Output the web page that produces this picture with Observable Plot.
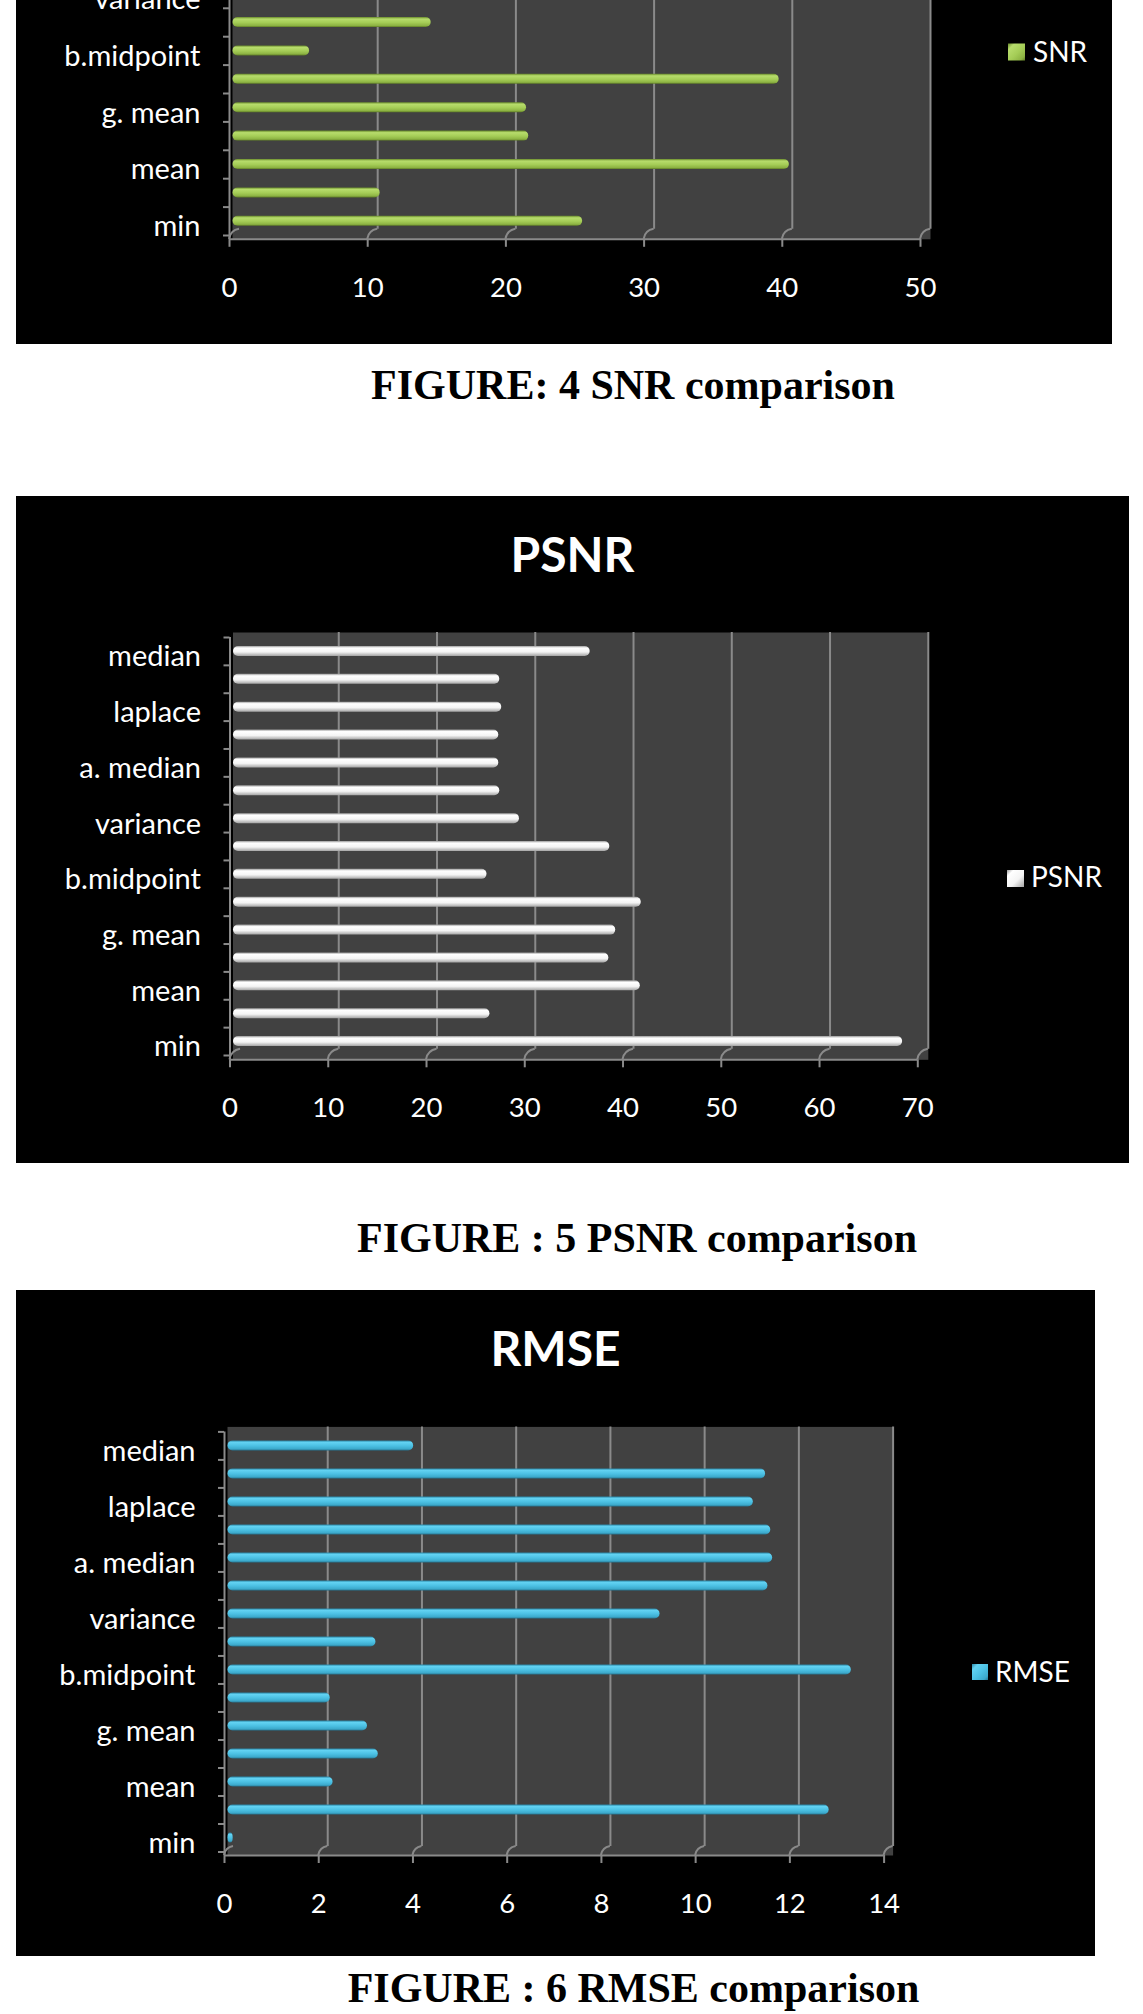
<!DOCTYPE html>
<html><head><meta charset="utf-8">
<script src="https://cdn.jsdelivr.net/npm/d3@7"></script>
<script src="https://cdn.jsdelivr.net/npm/@observablehq/plot@0.6"></script>
<style>
html,body{margin:0;padding:0;background:#fff;}
#page{position:relative;width:1143px;height:2014px;overflow:hidden;background:#fff;}
.panel{position:absolute;overflow:hidden;background:#000;}
.panel svg{position:absolute;left:0;}
#caps{position:absolute;left:0;top:0;pointer-events:none;}
</style></head><body><div id="page"></div>
<script>
// ---- data (rows listed from the bottom row "min" upward; "" = unlabeled row) ----
const rowLabels = ["min", "", "mean", "", "g. mean", "", "b.midpoint", "", "variance", "", "a. median", "", "laplace", "", "median"];
// SNR: only the lower 8 rows (and the foot of the "variance" label) are visible in the picture
const snrValues  = [25.3, 10.65, 40.26, 21.40, 21.24, 39.52, 5.54, 14.34];
const psnrValues = [68.1, 26.1, 41.4, 38.2, 38.9, 41.5, 25.8, 38.3, 29.1, 27.1, 27.0, 27.0, 27.3, 27.1, 36.3];
const rmseValues = [0.11, 12.76, 2.23, 3.19, 2.96, 2.17, 13.23, 3.14, 9.17, 11.46, 11.56, 11.52, 11.15, 11.41, 3.94];
const snrTicks  = [0, 10, 20, 30, 40, 50];
const psnrTicks = [0, 10, 20, 30, 40, 50, 60, 70];
const rmseTicks = [0, 2, 4, 6, 8, 10, 12, 14];
const titles   = ["SNR", "PSNR", "RMSE"];
const captions = ["FIGURE: 4 SNR comparison", "FIGURE : 5 PSNR comparison", "FIGURE : 6 RMSE comparison"];

// ---- styling / layout ----
const FONT = "Lato, 'Open Sans', sans-serif";
const WALL = "#414141", GRID = "#8a8a8a";
const gradients = {
  snr:  [["0%","#688a2b"],["20%","#b7dc6c"],["55%","#a5cd57"],["85%","#8db343"],["100%","#5f7d26"]],
  psnr: [["0%","#9a9a9a"],["20%","#ffffff"],["60%","#f4f4f4"],["100%","#a4a4a4"]],
  rmse: [["0%","#2a86a6"],["20%","#62d2f2"],["55%","#4bc0e3"],["85%","#3ca9cb"],["100%","#25738f"]]
};
const panels = [
  {key:"snr", title:null, legendText:titles[0], values:snrValues, ticks:snrTicks, labelRows:[0,2,4,6,8],
   boxTop:0, boxH:344, svgTop:-332.5,
   left:16, width:1096, height:676.5, mt:141, mb:109.5, ml:213, mr:192, gap:3.8, off:10,
   legend:{x:992, y:375.5, s:17, tx:1017, ty:393.5}},
  {key:"psnr", title:titles[1], legendText:titles[1], values:psnrValues, ticks:psnrTicks, labelRows:d3.range(0, 15, 2),
   boxTop:496, boxH:667, svgTop:0,
   left:16, width:1113, height:667, mt:141, mb:108, ml:213.5, mr:211.7, gap:4.3, off:10.5,
   legend:{x:991, y:374, s:17, tx:1015, ty:391.3}},
  {key:"rmse", title:titles[2], legendText:titles[2], values:rmseValues, ticks:rmseTicks, labelRows:d3.range(0, 15, 2),
   boxTop:1290, boxH:666, svgTop:0,
   left:16, width:1079, height:666, mt:141.4, mb:104.5, ml:208, mr:211.4, gap:3.5, off:9,
   legend:{x:956, y:374, s:16, tx:979, ty:392}}
];

const page = document.getElementById("page");

function makePanel(p) {
  const rows = p.values.map((v, i) => ({i, label: rowLabels[i], v}));
  const gid = "grad-" + p.key;
  const xMax = p.ticks[p.ticks.length - 1];
  const step = (p.height - p.mt - p.mb) / rowLabels.length;
  const barH = 10;
  const inset = (step - barH) / 2;
  const plot = Plot.plot({
    width: p.width, height: p.height,
    marginTop: p.mt, marginBottom: p.mb, marginLeft: p.ml, marginRight: p.mr,
    style: {background: "#000", color: "#fff", fontFamily: FONT, overflow: "visible"},
    x: {domain: [0, xMax], label: null},
    y: {domain: [-0.5, rowLabels.length - 0.5], label: null},
    marks: [
      Plot.frame({fill: WALL, stroke: "none", dx: p.off, insetLeft: 3 - p.off, insetTop: -5, insetBottom: -p.gap}),
      Plot.ruleX(p.ticks.filter(t => t > 0), {dx: p.off, insetTop: -5, insetBottom: p.off - p.gap, stroke: GRID, strokeWidth: 2}),
      Plot.ruleX([0], {insetBottom: -p.gap, stroke: GRID, strokeWidth: 2}),
      Plot.ruleY([-0.5], {dy: p.gap, stroke: GRID, strokeWidth: 2}),
      Plot.axisY({ticks: d3.range(-0.5, rowLabels.length, 1), tickSize: 6, tickFormat: () => "", stroke: GRID, strokeWidth: 2, label: null}),
      Plot.axisY({ticks: p.labelRows, tickSize: 0, tickPadding: 29, tickFormat: i => rowLabels[i],
                  fontSize: 29, fill: "#fff", dy: 5.6, label: null}),
      Plot.axisX({ticks: p.ticks, tickSize: 8, tickPadding: 30, dy: p.gap, fontSize: 27.5, stroke: GRID, strokeWidth: 2,
                  fill: "#fff", tickFormat: d => String(d), label: null}),
      Plot.rect(rows, {x1: 0, x2: "v", y1: d => d.i - 0.5, y2: d => d.i + 0.5, insetTop: inset, insetBottom: inset,
                       rx: barH / 2, dx: 3.5, fill: `url(#${gid})`})
    ]
  });
  const svg = d3.select(plot);
  const defs = svg.insert("defs", ":first-child");
  const lg = defs.append("linearGradient").attr("id", gid).attr("x1", 0).attr("y1", 0).attr("x2", 0).attr("y2", 1);
  gradients[p.key].forEach(([o, c]) => lg.append("stop").attr("offset", o).attr("stop-color", c));
  const lg2 = defs.append("linearGradient").attr("id", gid + "-leg").attr("x1", 0).attr("y1", 0).attr("x2", 1).attr("y2", 1);
  gradients[p.key].forEach(([o, c]) => lg2.append("stop").attr("offset", o).attr("stop-color", c));

  // 3-D floor connectors from the front axis to the back wall, drawn with the plot's own scales
  const xs = plot.scale("x"), ys = plot.scale("y");
  const yFront = ys.apply(-0.5) + p.gap;
  const g = svg.append("g").attr("stroke", GRID).attr("stroke-width", 2).attr("fill", "none");
  p.ticks.forEach(t => {
    const fx = xs.apply(t);
    g.append("path").attr("d", `M${fx},${yFront}Q${fx + p.off * 0.15},${yFront - p.off * 0.85} ${fx + p.off},${yFront - p.off}`);
  });

  // title (the SNR title lies above the visible part of the page)
  if (p.title) {
    svg.append("text").attr("x", p.width / 2).attr("y", 75.7).attr("text-anchor", "middle")
      .attr("font-weight", "bold").attr("font-size", 48).attr("fill", "#fff").attr("font-family", FONT).text(p.title);
  }
  // legend
  svg.append("rect").attr("x", p.legend.x).attr("y", p.legend.y).attr("width", p.legend.s).attr("height", p.legend.s)
    .attr("fill", `url(#${gid}-leg)`);
  svg.append("text").attr("x", p.legend.tx).attr("y", p.legend.ty).attr("text-anchor", "start")
    .attr("font-size", 28).attr("fill", "#fff").attr("font-family", FONT).text(p.legendText);

  const box = document.createElement("div");
  box.className = "panel";
  box.style.left = p.left + "px";
  box.style.top = p.boxTop + "px";
  box.style.width = p.width + "px";
  box.style.height = p.boxH + "px";
  plot.style.top = p.svgTop + "px";
  box.appendChild(plot);
  page.appendChild(box);
}
panels.forEach(makePanel);

// figure captions
const capSvg = d3.select(page).append("svg").attr("id", "caps").attr("width", 1143).attr("height", 2014);
const capPos = [{x: 633, y: 399}, {x: 637, y: 1251.5}, {x: 633.5, y: 2001.7}];
captions.forEach((c, i) => {
  capSvg.append("text").attr("x", capPos[i].x).attr("y", capPos[i].y).attr("text-anchor", "middle")
    .attr("font-family", "'Liberation Serif', 'Times New Roman', serif").attr("font-weight", "bold")
    .attr("font-size", 42).attr("fill", "#000").text(c);
});
</script>
</body></html>
